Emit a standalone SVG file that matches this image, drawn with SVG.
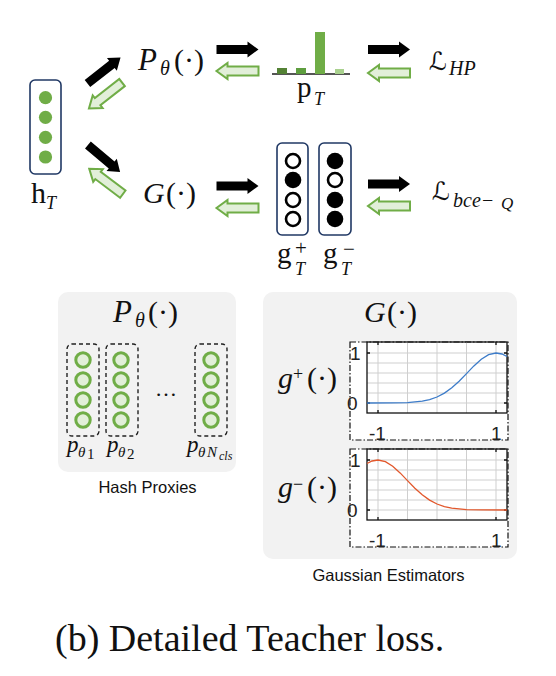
<svg xmlns="http://www.w3.org/2000/svg" xmlns:xlink="http://www.w3.org/1999/xlink" width="556" height="676" viewBox="0 0 556 676">
<style>
.mi{font-family:"Liberation Serif","DejaVu Serif",serif;font-style:italic;fill:#111}
.mr{font-family:"Liberation Serif","DejaVu Serif",serif;fill:#111}
.scr{font-family:"DejaVu Serif","DejaVu Sans",serif;font-style:italic;fill:#111}
.sans{font-family:"Liberation Sans",Arial,sans-serif;fill:#111}
.blk{fill:#000}
.grn{fill:#e2efd9;stroke:#70ad47;stroke-width:2;stroke-linejoin:miter}
.nbox{fill:#fff;stroke:#203864;stroke-width:1.6}
.dot{fill:#70ad47}
.oc{fill:#fff;stroke:#000;stroke-width:2.6}
.fc{fill:#000}
.pc{fill:#e2efd9;stroke:#70ad47;stroke-width:3}
.dbox{fill:none;stroke:#222;stroke-width:1.4;stroke-dasharray:4 3}
.panel{fill:#f2f2f2}
.grid{stroke:#cfcfcf;stroke-width:1}
.ax{fill:none;stroke:#111;stroke-width:1.3}
.frame{fill:#fff;stroke:#111;stroke-width:1.2;stroke-dasharray:6 2 1.5 2}
.tick{font-family:"Liberation Sans",Arial,sans-serif;font-size:19px;fill:#222}
</style>
<defs>
<path id="ar" d="M-21,-4.5 H10 V-8 L21,0 L10,8 V4.5 H-21 Z"/>
</defs>
<rect width="556" height="676" fill="#fff"/>

<g id="connectors">
<use xlink:href="#ar" class="blk" transform="translate(104,70.5) rotate(-38)"/>
<use xlink:href="#ar" class="grn" transform="translate(105.5,95.5) rotate(142)"/>
<use xlink:href="#ar" class="blk" transform="translate(104,158.5) rotate(40)"/>
<use xlink:href="#ar" class="grn" transform="translate(106,181.5) rotate(-143)"/>
<use xlink:href="#ar" class="blk" transform="translate(237.5,49.5)"/>
<use xlink:href="#ar" class="grn" transform="translate(237.5,71) rotate(180)"/>
<use xlink:href="#ar" class="blk" transform="translate(237.5,186)"/>
<use xlink:href="#ar" class="grn" transform="translate(237.5,208) rotate(180)"/>
<use xlink:href="#ar" class="blk" transform="translate(389,49.5)"/>
<use xlink:href="#ar" class="grn" transform="translate(389,73) rotate(180)"/>
<use xlink:href="#ar" class="blk" transform="translate(389,184)"/>
<use xlink:href="#ar" class="grn" transform="translate(389,206) rotate(180)"/>
</g>

<g id="hT">
<rect class="nbox" x="30" y="80" width="31" height="94" rx="5"/>
<circle class="dot" cx="45.5" cy="97.7" r="6.6"/>
<circle class="dot" cx="45.5" cy="117.3" r="6.6"/>
<circle class="dot" cx="45.5" cy="137.3" r="6.6"/>
<circle class="dot" cx="45.5" cy="157" r="6.6"/>
<text class="mr" x="31" y="203" font-size="30">h</text>
<text class="mi" x="46" y="209" font-size="18">T</text>
</g>

<g id="Ptheta">
<text class="mi" x="138" y="70" font-size="31">P</text>
<text class="mi" x="160" y="75" font-size="20">θ</text>
<text class="mr" x="174" y="70" font-size="30">(·)</text>
</g>

<g id="G">
<text class="mi" x="143" y="203" font-size="30">G</text>
<text class="mr" x="166" y="203" font-size="30">(·)</text>
</g>

<g id="pT">
<line x1="272" y1="74" x2="350" y2="74" stroke="#555" stroke-width="2"/>
<rect x="277" y="68" width="10" height="6" fill="#548235"/>
<rect x="296" y="68" width="10" height="6" fill="#5e9e3f"/>
<rect x="315" y="32" width="10" height="42" fill="#70ad47"/>
<rect x="335" y="69" width="9" height="5" fill="#a9d18e"/>
<text class="mr" x="297" y="97" font-size="29">p</text>
<text class="mi" x="314" y="105" font-size="18">T</text>
</g>

<g id="gT">
<rect class="nbox" x="277" y="143" width="31" height="92" rx="5"/>
<circle class="oc" cx="293" cy="161" r="7"/>
<circle class="fc" cx="293" cy="180" r="8.3"/>
<circle class="oc" cx="293" cy="200" r="7"/>
<circle class="oc" cx="293" cy="219" r="7"/>
<rect class="nbox" x="319" y="143" width="32" height="92" rx="5"/>
<circle class="fc" cx="335" cy="161" r="8.3"/>
<circle class="oc" cx="335" cy="180" r="7"/>
<circle class="fc" cx="335" cy="200" r="8.3"/>
<circle class="fc" cx="335" cy="219" r="8.3"/>
<text class="mr" x="277" y="263" font-size="29">g</text>
<text class="mr" x="295" y="255" font-size="21">+</text>
<text class="mi" x="295" y="275" font-size="18">T</text>
<text class="mr" x="323" y="263" font-size="29">g</text>
<text class="mr" x="343" y="256" font-size="21">−</text>
<text class="mi" x="341" y="275" font-size="18">T</text>
</g>

<g id="LHP">
<text class="scr" x="429" y="70" font-size="25">ℒ</text>
<text class="mi" x="449" y="75" font-size="20">HP</text>
</g>

<g id="Lbce">
<text class="scr" x="432" y="200" font-size="25">ℒ</text>
<text class="mi" x="453" y="207" font-size="20">bce</text>
<text class="mr" x="482" y="207" font-size="20">−</text>
<text class="mi" x="501" y="209" font-size="17">Q</text>
</g>

<g id="hash-proxies">
<rect class="panel" x="58" y="292" width="178" height="180" rx="10"/>
<text class="mi" x="113" y="322" font-size="31">P</text>
<text class="mi" x="135" y="327" font-size="20">θ</text>
<text class="mr" x="148" y="322" font-size="30">(·)</text>
<rect class="dbox" x="67" y="344" width="32" height="92" rx="5"/>
<rect class="dbox" x="106" y="344" width="32" height="92" rx="5"/>
<rect class="dbox" x="195" y="344" width="32" height="92" rx="5"/>
<circle class="pc" cx="83" cy="360" r="7.2"/>
<circle class="pc" cx="83" cy="380" r="7.2"/>
<circle class="pc" cx="83" cy="400" r="7.2"/>
<circle class="pc" cx="83" cy="420" r="7.2"/>
<circle class="pc" cx="121" cy="360" r="7.2"/>
<circle class="pc" cx="121" cy="380" r="7.2"/>
<circle class="pc" cx="121" cy="400" r="7.2"/>
<circle class="pc" cx="121" cy="420" r="7.2"/>
<circle class="pc" cx="211" cy="360" r="7.2"/>
<circle class="pc" cx="211" cy="380" r="7.2"/>
<circle class="pc" cx="211" cy="400" r="7.2"/>
<circle class="pc" cx="211" cy="420" r="7.2"/>
<text class="mr" x="155" y="396" font-size="22">…</text>
<text class="mi" x="67" y="452" font-size="23">p</text>
<text class="mi" x="78" y="457" font-size="15">θ</text>
<text class="mr" x="87" y="459" font-size="15">1</text>
<text class="mi" x="107" y="452" font-size="23">p</text>
<text class="mi" x="118" y="457" font-size="15">θ</text>
<text class="mr" x="127" y="459" font-size="15">2</text>
<text class="mi" x="187" y="452" font-size="23">p</text>
<text class="mi" x="198" y="457" font-size="15">θ</text>
<text class="mi" x="207" y="457" font-size="15">N</text>
<text class="mi" x="219" y="460" font-size="12">cls</text>
<text class="sans" x="147.5" y="493" font-size="16.5" text-anchor="middle">Hash Proxies</text>
</g>

<g id="gaussian-estimators">
<rect class="panel" x="263" y="292" width="254" height="267" rx="10"/>
<text class="mi" x="364" y="322" font-size="30">G</text>
<text class="mr" x="387" y="322" font-size="30">(·)</text>

<g id="gplus">
<text class="mi" x="278" y="388" font-size="30">g</text>
<text class="mr" x="293" y="380" font-size="18">+</text>
<text class="mr" x="307" y="388" font-size="30">(·)</text>
<rect class="frame" x="350" y="342" width="158" height="98"/>
<g class="grid">
<line x1="378" y1="342" x2="378" y2="413"/><line x1="407.5" y1="342" x2="407.5" y2="413"/>
<line x1="437" y1="342" x2="437" y2="413"/><line x1="466.5" y1="342" x2="466.5" y2="413"/>
<line x1="496" y1="342" x2="496" y2="413"/>
<line x1="367" y1="353" x2="507" y2="353"/><line x1="367" y1="363" x2="507" y2="363"/>
<line x1="367" y1="373" x2="507" y2="373"/><line x1="367" y1="383" x2="507" y2="383"/>
<line x1="367" y1="393" x2="507" y2="393"/><line x1="367" y1="403" x2="507" y2="403"/>
</g>
<rect class="ax" x="367" y="342" width="140" height="71"/>
<path class="ax" d="M367,353h3M367,403h3M507,353h-3M507,403h-3M378,413v-3M496,413v-3M378,342v3M496,342v3"/>
<polyline fill="none" stroke="#3d7cc9" stroke-width="1.3" points="367,403 392.8,402.9 407.5,402.6 422.3,401.2 429.6,399.6 437,397 444.4,393.1 451.8,387.8 459.1,381.2 466.5,373.6 473.9,365.9 481.3,359.2 488.6,354.6 496,353 501.9,354 507,356.5"/>
<text class="tick" x="350" y="360">1</text>
<text class="tick" x="347" y="410">0</text>
<text class="tick" x="369" y="440">-1</text>
<text class="tick" x="491" y="440">1</text>
</g>

<g id="gminus">
<text class="mi" x="278" y="497" font-size="30">g</text>
<text class="mr" x="293" y="490" font-size="18">−</text>
<text class="mr" x="307" y="497" font-size="30">(·)</text>
<rect class="frame" x="350" y="449" width="158" height="98"/>
<g class="grid">
<line x1="378" y1="449" x2="378" y2="520"/><line x1="407.5" y1="449" x2="407.5" y2="520"/>
<line x1="437" y1="449" x2="437" y2="520"/><line x1="466.5" y1="449" x2="466.5" y2="520"/>
<line x1="496" y1="449" x2="496" y2="520"/>
<line x1="367" y1="460" x2="507" y2="460"/><line x1="367" y1="470" x2="507" y2="470"/>
<line x1="367" y1="480" x2="507" y2="480"/><line x1="367" y1="490" x2="507" y2="490"/>
<line x1="367" y1="500" x2="507" y2="500"/><line x1="367" y1="510" x2="507" y2="510"/>
</g>
<rect class="ax" x="367" y="449" width="140" height="71"/>
<path class="ax" d="M367,460h3M367,510h3M507,460h-3M507,510h-3M378,520v-3M496,520v-3M378,449v3M496,449v3"/>
<polyline fill="none" stroke="#e2572b" stroke-width="1.3" points="507,510 481.2,509.9 466.5,509.6 451.7,508.2 444.4,506.6 437,504 429.6,500.1 422.2,494.8 414.9,488.2 407.5,480.6 400.1,472.9 392.7,466.2 385.4,461.6 378,460 372.1,461 367,463.5"/>
<text class="tick" x="350" y="467">1</text>
<text class="tick" x="347" y="517">0</text>
<text class="tick" x="369" y="547">-1</text>
<text class="tick" x="491" y="547">1</text>
</g>
<text class="sans" x="388.5" y="581" font-size="16.5" text-anchor="middle">Gaussian Estimators</text>
</g>

<g id="caption">
<text class="mr" x="55" y="651" font-size="38">(b) Detailed Teacher loss.</text>
</g>
</svg>
